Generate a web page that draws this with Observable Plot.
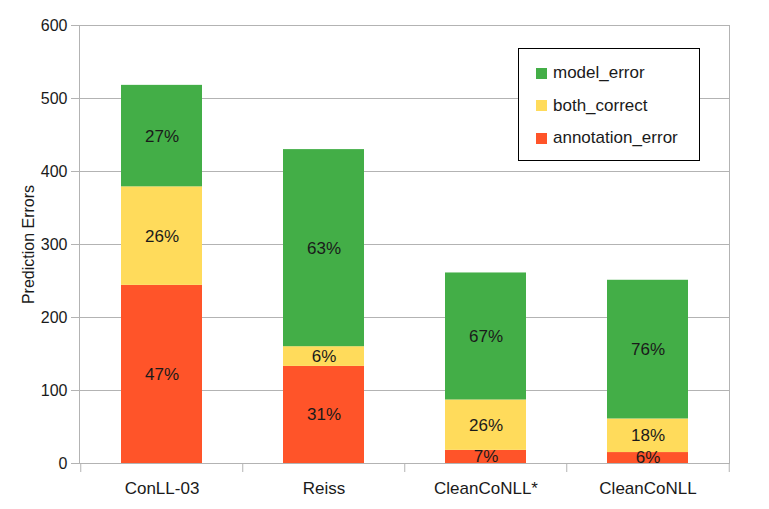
<!DOCTYPE html>
<html>
<head>
<meta charset="utf-8">
<script src="https://cdn.jsdelivr.net/npm/d3@7"></script>
<script src="https://cdn.jsdelivr.net/npm/@observablehq/plot@0.6"></script>
<style>
  html, body { margin: 0; padding: 0; background: #fff; }
  #wrap { position: relative; width: 769px; height: 509px; font-family: "Liberation Sans", Arial, sans-serif; }
  #legend { position: absolute; left: 518px; top: 48px; width: 180px; height: 111px; border: 1.5px solid #000; background: #fff; }
  .row { position: absolute; left: 17px; display: flex; align-items: center; font-size: 17px; color: #1a1a1a; height: 20px; }
  .sw { width: 11px; height: 11px; margin-right: 6px; }
</style>
</head>
<body>
<div id="wrap"></div>
<script>
const categories = ["ConLL-03", "Reiss", "CleanCoNLL*", "CleanCoNLL"];
const types = ["annotation_error", "both_correct", "model_error"];
const annotationError = [244, 133, 18, 15];
const bothCorrect = [135, 27, 69, 46];
const modelError = [139, 270, 174, 190];
const annotationPct = ["47%", "31%", "7%", "6%"];
const bothPct = ["26%", "6%", "26%", "18%"];
const modelPct = ["27%", "63%", "67%", "76%"];
const yTicks = [0, 100, 200, 300, 400, 500, 600];
const colors = ["#ff5429", "#ffdb5b", "#43ae47"];

const series = [annotationError, bothCorrect, modelError];
const pcts = [annotationPct, bothPct, modelPct];
const rows = [];
categories.forEach((c, i) => {
  let base = 0;
  types.forEach((t, j) => {
    const v = series[j][i];
    rows.push({dataset: c, type: t, y1: base, y2: base + v, mid: base + v / 2, label: pcts[j][i]});
    base += v;
  });
});

const W = 769, H = 509, mL = 79, mR = 40, mT = 25, mB = 46;
const step = (W - mL - mR) / categories.length;
const grey = "#b3b3b3";

const chart = Plot.plot({
  width: W, height: H,
  marginLeft: mL, marginRight: mR, marginTop: mT, marginBottom: mB,
  style: {fontFamily: "Liberation Sans, Arial, sans-serif", fontSize: "17px", color: "#1a1a1a", background: "#fff"},
  x: {domain: categories, paddingInner: 0.5, paddingOuter: 0.25},
  y: {domain: [0, 600]},
  color: {domain: types, range: colors},
  marks: [
    Plot.gridY(yTicks, {stroke: grey, strokeOpacity: 1}),
    Plot.frame({stroke: grey}),
    Plot.barY(rows, {x: "dataset", y1: "y1", y2: "y2", fill: "type"}),
    Plot.ruleX(categories, {x: d => d, y1: 0, y2: 0, dx: -step / 2, insetBottom: -9, stroke: grey}),
    Plot.ruleX(categories.slice(-1), {x: d => d, y1: 0, y2: 0, dx: step / 2, insetBottom: -9, stroke: grey}),
    Plot.text(rows, {x: "dataset", y: "mid", text: "label", fill: "#1a1a1a", fontSize: 17}),
    Plot.axisY({ticks: yTicks, tickSize: 8, tickPadding: 4, stroke: grey, fill: "#1a1a1a",
      label: "Prediction Errors", labelAnchor: "center", labelArrow: "none", labelOffset: 57, fontSize: 16}),
    Plot.axisX({tickSize: 0, tickPadding: 18, label: null, fill: "#1a1a1a"})
  ]
});
const wrap = document.getElementById("wrap");
wrap.appendChild(chart);

const legend = document.createElement("div");
legend.id = "legend";
const legendOrder = ["model_error", "both_correct", "annotation_error"];
legendOrder.forEach((t, k) => {
  const r = document.createElement("div");
  r.className = "row";
  r.style.top = (14 + k * 32.5) + "px";
  const sw = document.createElement("span");
  sw.className = "sw";
  sw.style.background = colors[types.indexOf(t)];
  const tx = document.createElement("span");
  tx.textContent = t;
  r.appendChild(sw); r.appendChild(tx);
  legend.appendChild(r);
});
wrap.appendChild(legend);
</script>
</body>
</html>
